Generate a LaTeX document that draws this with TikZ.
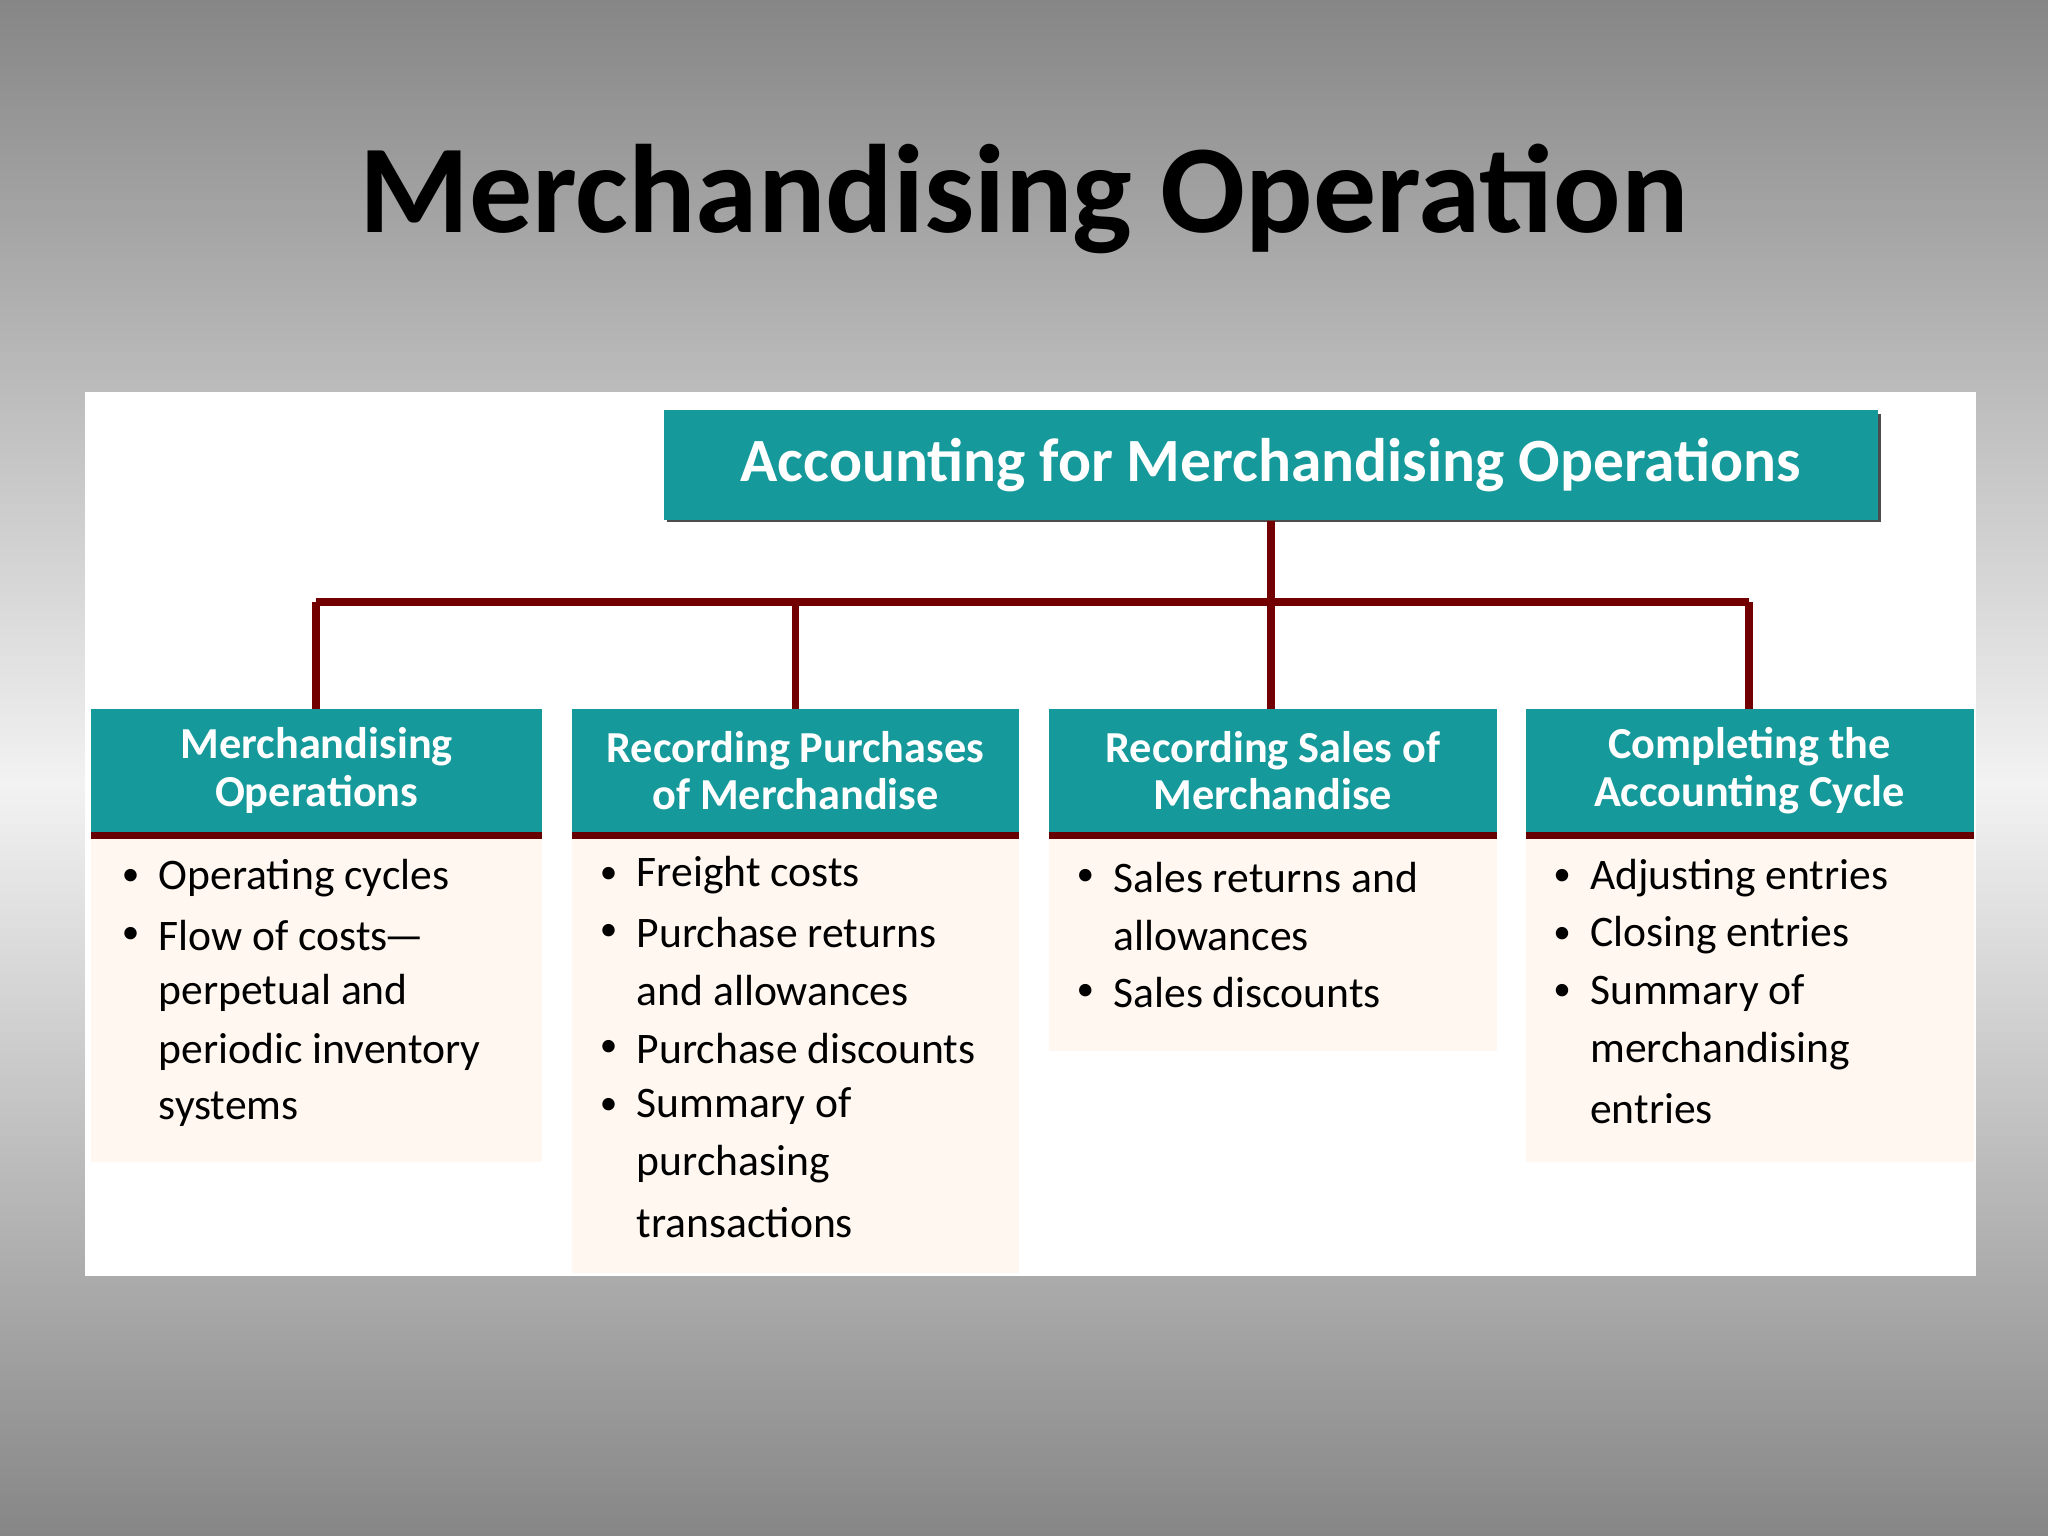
\documentclass[tikz,border=0pt]{standalone}
\usepackage{fontspec}
\setmainfont{Carlito}
\definecolor{tealc}{HTML}{16999B}
\begin{document}
\begin{tikzpicture}[x=0.01306cm,y=-0.01306cm,
  hdr/.style={fill=tealc,draw=none},
  conn/.style={draw=red!45!black,line width=2.2pt},
  body/.style={fill=orange!6!white,draw=none},
  htxt/.style={text=white,font=\bfseries\fontsize{12.6}{13.5}\selectfont,align=center},
  itm/.style={anchor=west,inner sep=0pt,font=\fontsize{12.4}{14}\selectfont},
  bul/.style={anchor=center,inner sep=0pt,font=\fontsize{10}{12}\selectfont}]
\useasboundingbox (0,0) rectangle (1568,1176);
\shade[top color=gray!95,bottom color=gray!10] (0,0) rectangle (1568,600);
\shade[top color=gray!10,bottom color=gray!95] (0,600) rectangle (1568,1176);
\node[font=\bfseries\fontsize{35.8}{42}\selectfont] (title) at (784,152) {Merchandising Operation};
\fill[white] (65,300) rectangle (1513,977);
% body boxes
\fill[body] (70,641) rectangle (415,890);
\fill[body] (438,641) rectangle (780,975);
\fill[body] (803,641) rectangle (1146,805);
\fill[body] (1168,641) rectangle (1511,890);
% top
\fill[black!70] (511,317) rectangle (1440,400);
\node[hdr,minimum width=930*0.01306cm,minimum height=84*0.01306cm,inner sep=0pt] (top) at (973,356) {};
\node[text=white,font=\bfseries\fontsize{17.5}{20}\selectfont] at (top) {Accounting for Merchandising Operations};
% headers
\foreach \n/\a/\b/\t in {h1/70/415/{Merchandising\\Operations},h2/438/780/{Recording Purchases\\of Merchandise},h3/803/1146/{Recording Sales of\\Merchandise},h4/1168/1511/{Completing the\\Accounting Cycle}}{
  \fill[hdr] (\a,543) rectangle (\b,641);
  \draw[red!40!black,line width=2pt] (\a,640) -- (\b,640);
  \node[htxt] (\n) at ({(\a+\b)/2},590) {\t};
}
\coordinate (j) at (973,461);
\coordinate (l) at (242,461);
\coordinate (r) at (1339,461);
\draw[conn] (top.south) -- (j);
\draw[conn] (l) -- (r);
\draw[conn] (l) -- (242,543);
\draw[conn] (609,461) -- (609,543);
\draw[conn] (j) -- (973,543);
\draw[conn] (r) -- (1339,543);
% items
\foreach \bx/\y in {100/672,100/716,466/670,466/714,466/803,466/847,831/672,831/760,1196/672,1196/716,1196/760}
  \node[bul] at (\bx,\y) {\textbullet};
\foreach \tx/\y/\t in {121/672/Operating cycles,121/716/{Flow of costs\kern-1pt—},121/760/perpetual and,121/805/periodic inventory,121/849/systems,
 487/670/Freight costs,487/714/Purchase returns,487/758/and allowances,487/803/Purchase discounts,487/847/Summary of,487/891/purchasing,487/936/transactions,
 852/672/Sales returns and,852/716/allowances,852/760/Sales discounts,
 1217/672/Adjusting entries,1217/716/Closing entries,1217/760/Summary of,1217/805/merchandising,1217/849/entries}
  \node[itm] at (\tx,\y) {\t};
\end{tikzpicture}
\end{document}
